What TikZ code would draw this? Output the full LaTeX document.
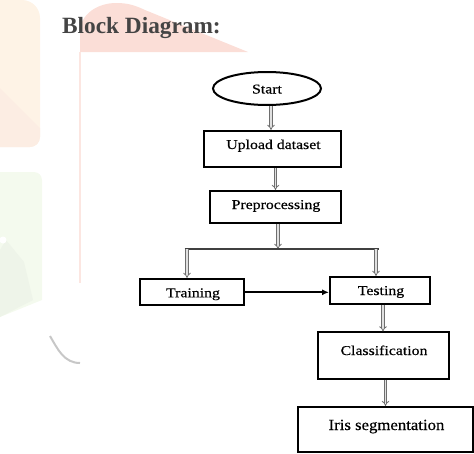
\documentclass[tikz,border=0pt]{standalone}
\usepackage{fontspec}
\setmainfont{Liberation Serif}
\newfontfamily\bxfont[FakeStretch=1.17,FakeBold=0.5]{Liberation Serif}
\newfontfamily\bxfontb[FakeStretch=1.08,FakeBold=0.5]{Liberation Serif}
\usetikzlibrary{arrows.meta,shapes.geometric,calc}
\definecolor{titlegray}{HTML}{444444}
\definecolor{wmorange}{HTML}{FEF3E6}
\definecolor{wmorange2}{HTML}{FCEDE3}
\definecolor{wmred}{HTML}{FBDED7}
\definecolor{wmgreen}{HTML}{F4FAEE}
\definecolor{wmgreen2}{HTML}{EEF4E9}
\definecolor{arrgray}{HTML}{6E6E6E}
\begin{document}
\begin{tikzpicture}[x=1pt,y=-1pt,
  box/.style={draw=black, line width=2pt, rectangle, inner sep=0pt},
  txt/.style={inner sep=0pt, anchor=base, font=\bxfont\fontsize{13.5}{16}\selectfont},
  dbl/.style={draw=arrgray, double=black!12, double distance=1.8pt, line width=0.8pt,
              -{Implies[length=3.5pt]}},
  sgl/.style={draw=black, line width=2pt, -{Latex[length=7pt,width=6pt]}},
  hline/.style={draw=black!75, line width=1.4pt}
]
\useasboundingbox (0,0) rectangle (474,453);
% faint background watermark
\fill[wmorange] (0,0) -- (22,0) to[out=0,in=90] (40,18) -- (40,137) to[out=-90,in=0] (30,147) -- (0,147) -- cycle;
\fill[wmorange2] (0,88) -- (40,128) -- (40,137) to[out=-90,in=0] (30,147) -- (0,147) -- cycle;
\fill[wmred] (80,52) -- (80,32) to[out=90,in=180] (116,3) to[out=0,in=155] (145,10) -- (248,52) -- cycle;
\fill[wmred!75] (78.5,52) rectangle (81,283);
\fill[wmgreen] (0,172) -- (34,172) to[out=0,in=90] (42,180) -- (42,300) -- (0,317) -- cycle;
\fill[wmgreen2] (6,240) -- (24,262) -- (33,300) -- (0,317) -- (0,250) -- cycle;
\fill[white] (3,240) circle (3.5);
\draw[black!22, line width=2pt] (50,336) to[out=-60,in=180] (80,363);
% title
\node[inner sep=0pt, anchor=base west, text=titlegray, font=\bfseries\fontsize{23.3}{28}\selectfont] (title) at (62,33.3) {Block Diagram:};
% boxes
\node[draw=black, ellipse, line width=2pt, minimum width=108pt, minimum height=33pt, inner sep=0pt] (start) at (267,88.5) {};
\node[txt] (startt) at (267,93.5) {Start};
\node[box, minimum width=137pt, minimum height=36pt] (up) at (272.5,149) {};
\node[txt] (upt) at (273.5,149) {Upload dataset};
\node[box, minimum width=131pt, minimum height=32pt] (pre) at (275.5,207) {};
\node[txt] (pret) at (276,209) {Preprocessing};
\node[box, minimum width=104pt, minimum height=26pt] (train) at (192,292) {};
\node[txt] (traint) at (193,297.3) {Training};
\node[box, minimum width=100pt, minimum height=27pt] (test) at (380,290.5) {};
\node[txt] (testt) at (381,295) {Testing};
\node[box, minimum width=131pt, minimum height=46.5pt] (cls) at (383.5,355.7) {};
\node[txt] (clst) at (384,355) {Classification};
\node[box, minimum width=175pt, minimum height=45pt] (iris) at (385.5,429.5) {};
\node[txt, font=\bxfontb\fontsize{15.5}{18}\selectfont] (irist) at (386.5,430) {Iris segmentation};
% connectors
\coordinate (jm) at (278,249);
\coordinate (jl) at (187,249);
\coordinate (jr) at (376,249);
\draw[dbl] ([xshift=4pt]start.south) -- ([xshift=4pt]start.south |- up.north);
\draw[dbl] (up.south -| pre.north) -- (pre.north);
\draw[dbl] (pre.south -| jm) -- (jm);
\draw[hline] ([xshift=-2.5pt]jl) -- ([xshift=2.5pt]jr);
\draw[dbl] (jl) -- (jl |- train.north);
\draw[dbl] (jr) -- (jr |- test.north);
\draw[sgl] (train.east |- traint.base) ++(0,-5) coordinate (ta) -- (ta -| test.west);
\draw[dbl] ([xshift=3pt]test.south) -- ([xshift=3pt]test.south |- cls.north);
\draw[dbl] (cls.south -| iris.north) -- (iris.north);
\end{tikzpicture}
\end{document}
